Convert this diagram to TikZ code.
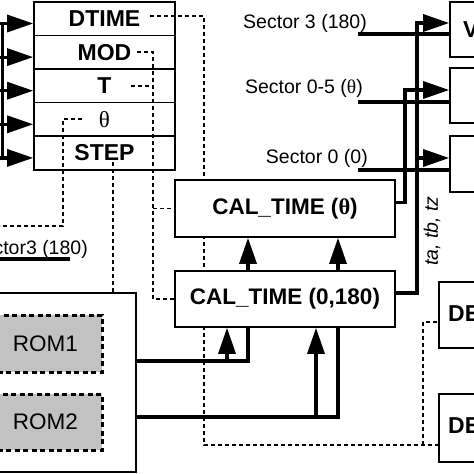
\documentclass[tikz,border=0pt]{standalone}
\usepackage{fontspec}
\setmainfont{Liberation Sans}
\newfontfamily\grk{Liberation Serif}
\usetikzlibrary{arrows.meta,backgrounds}
\tikzset{
  box/.style={draw,line width=1.6pt,fill=white,inner sep=0pt},
  reg/.style={box,fill=none,minimum width=141pt,minimum height=33.6pt,font=\fontsize{23}{23}\selectfont\bfseries},
  cal/.style={box,minimum width=220pt,font=\fontsize{22.5}{23}\selectfont\bfseries},
  rom/.style={draw,line width=3pt,dash pattern=on 5pt off 3.5pt,fill=black!24,minimum width=113pt,inner sep=0pt,font=\fontsize{22.5}{23}\selectfont},
  lab/.style={inner sep=0pt,font=\fontsize{19.5}{20}\selectfont},
  big/.style={inner sep=0pt,anchor=west,font=\fontsize{23}{23}\selectfont\bfseries},
  bus/.style={line width=3.2pt},
  sig/.style={line width=1.7pt,dash pattern=on 4pt off 3pt},
  arr/.style={-{Triangle[length=26pt,width=17pt]}},
  arl/.style={{Triangle[length=26pt,width=17pt]}-}
}
\begin{document}
\begin{tikzpicture}[x=1pt,y=-1pt]
  \useasboundingbox (0,0) rectangle (474,474);
  \clip (0,0) rectangle (474,474);
  \node[reg] (dtime) at (104.5,18.5) {DTIME};
  \node[reg] (mod) at (104.5,52.1) {MOD};
  \node[reg] (tvar) at (104.5,85.7) {T};
  \node[reg] (thvar) at (104.5,119.3) {\mdseries\grk θ};
  \node[reg] (step) at (104.5,152.9) {STEP};
  \node[cal,minimum height=57pt] (calth) at (285,208.5) {CAL\_TIME ({\grk θ})};
  \node[cal,minimum height=56pt] (calz) at (285,299) {CAL\_TIME (0,180)};
  \node[box,minimum width=156pt,minimum height=179pt] (romblk) at (58,382.5) {};
  \node[rom,minimum height=57pt] (rom1) at (45.5,343.5) {ROM1};
  \node[rom,minimum height=56pt] (rom2) at (45.5,422) {ROM2};
  \node[box,minimum width=90pt,minimum height=55pt] (vbox) at (495,29.5) {};
  \node[box,minimum width=90pt,minimum height=55pt] (sbox2) at (495,95.5) {};
  \node[box,minimum width=90pt,minimum height=56pt] (sbox3) at (495,164) {};
  \node[box,minimum width=90pt,minimum height=66pt] (de1) at (484,315) {};
  \node[box,minimum width=90pt,minimum height=68pt] (de2) at (484,428) {};
  \node[big] (vtxt) at (463,30) {V};
  \node[big] (detxt1) at (448,314) {DE};
  \node[big] (detxt2) at (448,426) {DE};
  \node[lab,anchor=base east] (s3lab) at (367,28) {Sector 3 (180)};
  \node[lab,anchor=base east] (s05lab) at (363,93) {Sector 0-5 ({\grk θ})};
  \node[lab,anchor=base east] (s0lab) at (368,163) {Sector 0 (0)};
  \node[lab,anchor=base east] (s3low) at (88,254) {Sector3 (180)};
  \node[lab,rotate=90,font=\fontsize{19.5}{20}\selectfont\itshape] (tlab) at (432,231) {ta, tb, tz};
  \coordinate (lft) at (0,0);
  \coordinate (s3in) at (358,34);
  \coordinate (s05in) at (358,102);
  \coordinate (s0in) at (358,170);
  \coordinate (s3out) at (70,259);
  \coordinate (ta) at (417,23);
  \coordinate (tc) at (417,158);
  \coordinate (tb) at (405,90);
  \coordinate (r1) at (248,361);
  \coordinate (r2) at (338,417);
  \coordinate (a1) at (227,361);
  \coordinate (a2) at (316,417);
  \coordinate (dtq) at (150,16);
  \coordinate (dsw) at (204,445);
  \coordinate (dse) at (423,445);
  \coordinate (mdq) at (137,52);
  \coordinate (tq) at (131,86);
  \coordinate (thq) at (82,119);
  \coordinate (thv) at (63,226);
  \coordinate (stq) at (113,162);
  \begin{scope}[on background layer]
    \draw[bus] ([xshift=-31pt,yshift=-5pt]dtime.west) -- ([xshift=-31pt,yshift=-5pt]step.west);
    \foreach \r in {dtime,mod,tvar,thvar,step}
      \draw[bus,arl] ([yshift=-5pt]\r.west) -- ++(-34.5,0);
    \draw[bus,arr] (romblk.east |- r1) -| (calth.south -| r1);
    \draw[bus,arr] (a1) -- (calz.south -| a1);
    \draw[bus,arr] (romblk.east |- r2) -| (calth.south -| r2);
    \draw[bus,arr] (a2) -- (calz.south -| a2);
    \draw[bus,arr] ([yshift=6pt]calz.east) -| (ta) -- (vbox.west |- ta);
    \draw[bus,arr] (tc) -- (sbox3.west |- tc);
    \draw[bus,arr] ([yshift=6pt]calth.east) -| (tb) -- (sbox2.west |- tb);
    \draw[bus] (s3in) -- (vbox.west |- s3in);
    \draw[bus] (s05in) -- (sbox2.west |- s05in);
    \draw[bus] (s0in) -- (sbox3.west |- s0in);
    \draw[bus] (s3out) -- (s3out -| lft);
    \draw[sig] (dtq) -| (dsw) -- (de2.west |- dsw);
    \draw[sig] (dse) |- ([yshift=-7pt]de1.west);
    \draw[sig] (mdq) -| ([xshift=-21pt]calz.west) -- (calz.west);
    \draw[sig] ([xshift=-21pt]calth.west) -- (calth.west);
    \draw[sig] (tq) -- ++(23,0);
    \draw[sig] (thq) -| (thv) -- (thv -| lft);
    \draw[sig] (stq) -- (stq |- romblk.north);
  \end{scope}
\end{tikzpicture}
\end{document}
